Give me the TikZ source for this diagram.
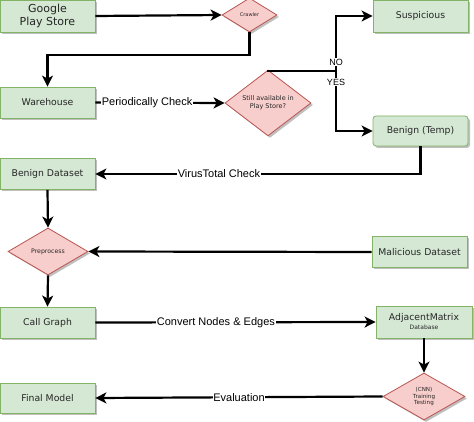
\documentclass[tikz,border=0pt]{standalone}
\usepackage{fontspec}
\setmainfont{DejaVu Sans}
\newfontfamily\labelfont{Liberation Sans}
\usetikzlibrary{shapes.geometric,arrows.meta,shadows}
\definecolor{gfill}{HTML}{D5E8D4}
\definecolor{gline}{HTML}{82B366}
\definecolor{rfill}{HTML}{F8CECC}
\definecolor{rline}{HTML}{B85450}
\tikzset{
  gbox/.style={rectangle, draw=gline, fill=gfill, line width=0.8pt, minimum width=95pt, minimum height=31pt, inner sep=1pt, align=center, font=\fontsize{9.3}{11}\selectfont, text=black!85,
    drop shadow={shadow xshift=2pt, shadow yshift=-2pt, fill=black, opacity=0.25}},
  rdia/.style={diamond, draw=rline, fill=rfill, line width=0.8pt, inner sep=0pt, align=center, text=black!85,
    drop shadow={shadow xshift=2pt, shadow yshift=-2pt, fill=black, opacity=0.25}},
  conn/.style={line width=2.2pt, -{Stealth[length=11pt,width=11pt,inset=3pt]}},
  elabel/.style={fill=white, inner sep=0.8pt, font=\labelfont\fontsize{11}{12}\selectfont, text=black},
  ylabel/.style={fill=white, inner sep=0.5pt, font=\labelfont\fontsize{9}{10}\selectfont, text=black},
}
\begin{document}
\begin{tikzpicture}[x=1pt,y=-1pt]
\useasboundingbox (0,0) rectangle (474,422);
% boxes
\node[gbox, minimum height=32pt, font=\fontsize{11}{12.5}\selectfont] (gps) at (47.5,16) {Google\\Play Store};
\node[gbox] (ware) at (47.5,102.5) {Warehouse};
\node[gbox, minimum height=32pt] (susp) at (420.5,16) {Suspicious};
\node[gbox, rounded corners=3pt, minimum height=30pt] (btemp) at (420.5,131) {Benign (Temp)};
\node[gbox] (bds) at (47.5,174) {Benign Dataset};
\node[gbox] (mal) at (419.5,252) {Malicious Dataset};
\node[gbox] (cg) at (47.5,322.5) {Call Graph};
\node[gbox, minimum width=96pt, minimum height=32pt] (adj) at (424,322) {AdjacentMatrix\\[-2pt]{\fontsize{6}{7}\selectfont Database}};
\node[gbox, minimum height=30pt] (final) at (47.5,398) {Final Model};
% diamonds
\node[rdia, minimum width=55pt, minimum height=34pt, font=\fontsize{5}{6}\selectfont] (crawl) at (249.5,15) {Crawler};
\node[rdia, minimum width=86pt, minimum height=48pt, font=\fontsize{6.5}{8}\selectfont] (still) at (268,103) {Still available in\\Play Store?};
\node[rdia, minimum width=80pt, minimum height=47pt, font=\fontsize{6.2}{7}\selectfont] (prep) at (48,251.5) {Preprocess};
\node[rdia, minimum width=82pt, minimum height=47pt, font=\fontsize{5.6}{6.6}\selectfont] (cnn) at (424,396.5) {(CNN)\\Training\\Testing};
% junction coordinates
\coordinate (cdown) at (249.5,55);
\coordinate (jn) at (336,71);
% connectors
\draw[conn] (gps.east) -- (crawl.west);
\draw[conn] (crawl.south) -- (cdown) -| (ware.north);
\draw[conn] (ware.east) -- node[elabel, pos=0.4] {Periodically Check} (still.west);
\draw[line width=2.2pt] (still.north) |- (jn);
\draw[conn] (jn) |- (susp.west);
\draw[conn] (jn) |- (btemp.west);
\node[ylabel] (nolab) at (336,62) {NO};
\node[ylabel] (yeslab) at (336,82) {YES};
\draw[conn] (btemp.south) |- node[elabel, pos=0.81] {VirusTotal Check} (bds.east);
\draw[conn] (bds.south) -- (prep.north);
\draw[conn] (mal.west) -- (prep.east);
\draw[conn] (prep.south) -- (cg.north);
\draw[conn] (cg.east) -- node[elabel, pos=0.43] {Convert Nodes \& Edges} (adj.west);
\draw[conn] (adj.south) -- (cnn.north);
\draw[conn] (cnn.west) -- node[elabel, pos=0.5] {Evaluation} (final.east);
\end{tikzpicture}
\end{document}
